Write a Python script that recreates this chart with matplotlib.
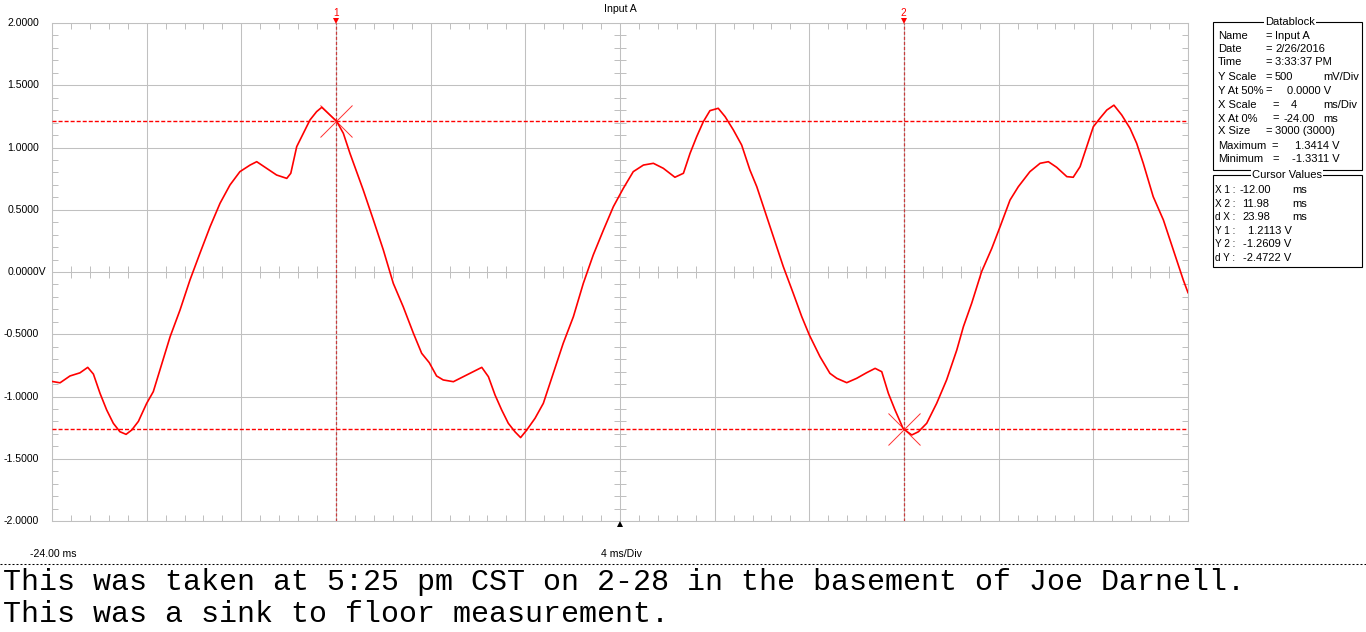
import matplotlib
matplotlib.use("Agg")
import matplotlib.pyplot as plt
from matplotlib.lines import Line2D
from matplotlib.patches import Rectangle
import numpy as np

plt.rcParams['lines.scale_dashes'] = False

# ---------------- data ----------------
time_ms = [-23.97, -23.66, -23.24, -22.82, -22.49, -22.25, -21.97, -21.69, -21.41, -21.13,
           -20.87, -20.63, -20.35, -20.00, -19.72, -19.44, -19.01, -18.59, -18.17, -17.75,
           -17.32, -16.90, -16.48, -16.06, -15.63, -15.35, -14.93, -14.51, -14.08, -13.91,
           -13.66, -13.38, -13.10, -12.82, -12.60, -12.33, -11.97, -11.69, -11.41, -11.13,
           -10.85, -10.42, -10.00, -9.58, -9.16, -8.73, -8.38, -8.06,
           -7.75, -7.47, -7.04, -6.62, -6.20, -5.84, -5.56, -5.28, -5.00, -4.72,
           -4.44, -4.20, -3.94, -3.59, -3.24, -2.82, -2.40, -1.97, -1.55, -1.13,
           -0.70, -0.28, 0.14, 0.56, 0.99, 1.41, 1.83, 2.32, 2.68, 2.96,
           3.24, 3.52, 3.80, 4.15, 4.44, 4.79, 5.14, 5.49, 5.78, 6.06,
           6.48, 6.90, 7.32, 7.68, 8.00,
           8.45, 8.87, 9.16, 9.58, 10.00, 10.42, 10.78, 11.06, 11.34, 11.62,
           11.97, 12.33, 12.61, 12.96, 13.38, 13.80, 14.23, 14.51, 14.86, 15.28,
           15.71, 16.06, 16.48, 16.83, 17.32, 17.75, 18.10, 18.45, 18.88, 19.15,
           19.44, 19.72, 20.00, 20.28, 20.57, 20.87, 21.20, 21.55, 21.83, 22.11,
           22.53, 22.96, 23.24, 23.52, 23.80, 24.00]

volts = [-0.88, -0.89, -0.835, -0.81, -0.766, -0.82, -0.975, -1.108, -1.215, -1.283,
         -1.304, -1.269, -1.20, -1.055, -0.961, -0.787, -0.52, -0.305, -0.064, 0.15,
         0.364, 0.552, 0.699, 0.806, 0.859, 0.886, 0.833, 0.779, 0.752, 0.793,
         1.007, 1.114, 1.221, 1.288, 1.323, 1.275, 1.21, 1.114, 0.953, 0.806,
         0.659, 0.418, 0.177, -0.091, -0.279, -0.492, -0.653, -0.728,
         -0.835, -0.867, -0.881, -0.841, -0.801, -0.766, -0.841, -0.988, -1.108, -1.215,
         -1.283, -1.33, -1.269, -1.175, -1.055, -0.814, -0.573, -0.359, -0.091, 0.137,
         0.337, 0.525, 0.672, 0.806, 0.859, 0.873, 0.833, 0.761, 0.793, 0.953,
         1.087, 1.207, 1.296, 1.315, 1.248, 1.141, 1.02, 0.819, 0.685, 0.525,
         0.284, 0.043, -0.171, -0.359, -0.506,
         -0.68, -0.814, -0.854, -0.889, -0.854, -0.809, -0.774, -0.801, -0.975, -1.108,
         -1.26, -1.309, -1.283, -1.215, -1.055, -0.867, -0.627, -0.439, -0.251, 0.003,
         0.19, 0.364, 0.578, 0.685, 0.806, 0.873, 0.886, 0.841, 0.766, 0.761,
         0.846, 1.007, 1.167, 1.235, 1.301, 1.34, 1.261, 1.154, 1.034, 0.873,
         0.605, 0.418, 0.257, 0.096, -0.064, -0.166]

ytick_values = [2.0, 1.5, 1.0, 0.5, 0.0, -0.5, -1.0, -1.5, -2.0]
ytick_labels = ["2.0000", "1.5000", "1.0000", "0.5000", "0.0000V",
                "-0.5000", "-1.0000", "-1.5000", "-2.0000"]

cursor_x = [-12.00, 11.98]
cursor_y = [1.2113, -1.2609]
cursor_names = ["1", "2"]

title_text = "Input A"
x_start_label = "-24.00 ms"
x_scale_label = "4 ms/Div"

db_labels = ["Name", "Date", "Time", "Y Scale", "Y At 50%", "X Scale",
             "X At 0%", "X Size", "Maximum", "Minimum"]
db_values = ["Input A", "2/26/2016", "3:33:37 PM", "500", "0.0000 V", "4",
             "-24.00", "3000 (3000)", "1.3414 V", "-1.3311 V"]
db_units = ["", "", "", "mV/Div", "", "ms/Div", "ms", "", "", ""]

cv_labels = ["X 1 :", "X 2 :", "d X :", "Y 1 :", "Y 2 :", "d Y :"]
cv_values = ["-12.00", "11.98", "23.98", "1.2113 V", "-1.2609 V", "-2.4722 V"]
cv_units = ["ms", "ms", "ms", "", "", ""]

note_lines = ["This was taken at 5:25 pm CST on 2-28 in the basement of Joe Darnell.",
              "This was a sink to floor measurement."]

# ---------------- layout ----------------
W, H = 1366, 632
fig = plt.figure(figsize=(W / 100, H / 100), dpi=100)
fig.patch.set_facecolor("white")


def fx(px):
    return px / W


def fy(py):
    return 1 - py / H


GRID = "#c0c0c0"
RED = "#ff0000"
SANS = ["Liberation Sans", "DejaVu Sans"]

ax = fig.add_axes([fx(52), fy(521), 1136 / W, 498 / H])
ax.set_xlim(-24, 24)
ax.set_ylim(-2, 2)
ax.set_xticks(np.arange(-24, 24.01, 4))
ax.set_yticks(ytick_values)
ax.set_xticks(np.arange(-24, 24.01, 0.8), minor=True)
ax.set_yticks(np.arange(-2, 2.001, 0.1), minor=True)
ax.grid(True, which="major", color=GRID, lw=0.75)
ax.tick_params(which="major", length=0, labelbottom=False, labelleft=False)
ax.tick_params(which="minor", direction="in", length=4.3, width=0.72, color=GRID,
               top=True, right=True, bottom=True, left=True)
for sp in ax.spines.values():
    sp.set_color(GRID)
    sp.set_linewidth(0.75)
ax.set_axisbelow(True)

# centre cross minor ticks
minor_x = np.arange(-24, 24.01, 0.8)
minor_y = np.arange(-2, 2.001, 0.1)
ax.plot(minor_x, np.zeros_like(minor_x), ls="none", marker="|", ms=8.6, mew=0.72,
        color=GRID, zorder=1)
ax.plot(np.zeros_like(minor_y), minor_y, ls="none", marker="_", ms=8.6, mew=0.72,
        color=GRID, zorder=1)

# y labels
for v, lab in zip(ytick_values, ytick_labels):
    off = -4.3 if lab.endswith("V") else -9.4
    ax.annotate(lab, xy=(0, v), xycoords=("axes fraction", "data"),
                xytext=(off, 0), textcoords="offset points",
                ha="right", va="center", fontsize=7.6, family=SANS, color="black")

# cursors
for cx, name in zip(cursor_x, cursor_names):
    ax.axvline(cx, color="#c83c3c", lw=0.9, dashes=(2.2, 1.45), zorder=3)
    ax.plot([cx], [2.0 + 0.018], marker="v", ms=4.5, color=RED, clip_on=False,
            zorder=6, mew=0)
    ax.annotate(name, xy=(cx, 2.0), xytext=(0, 3.8), textcoords="offset points",
                ha="center", va="bottom", fontsize=7.2, family=SANS, color=RED,
                annotation_clip=False)
for cy in cursor_y:
    ax.axhline(cy, color=RED, lw=1.0, dashes=(2.9, 1.45), zorder=3)
ax.plot(cursor_x, cursor_y, ls="none", marker="x", ms=23, mew=0.7, color="#ff3030",
        zorder=4)

# trace
ax.plot(time_ms, volts, color=RED, lw=1.2, zorder=5)

# origin marker at bottom
ax.plot([0], [-2.0 - 0.022], marker="^", ms=4.2, color="black", clip_on=False,
        zorder=6, mew=0)

# texts around axes
fig.text(fx(620), fy(9), title_text, ha="center", va="center", fontsize=7.6,
         family=SANS)
fig.text(fx(30), fy(554), x_start_label, ha="left", va="center", fontsize=7.6,
         family=SANS)
fig.text(fx(621), fy(554), x_scale_label, ha="center", va="center", fontsize=7.6,
         family=SANS)

fig.add_artist(Line2D([0, 1], [fy(564), fy(564)], transform=fig.transFigure,
                      color="black", lw=0.75, dashes=(1.44, 1.44)))

for i, line in enumerate(note_lines):
    fig.text(fx(3), fy(590 + 32.5 * i), line, ha="left", va="baseline",
             fontsize=21.6, family=["Liberation Mono", "DejaVu Sans Mono"],
             color="black")

# Datablock panel
PFS = 8.0
fig.add_artist(Rectangle((fx(1213), fy(170)), (1362 - 1213) / W, (170 - 22) / H,
                         transform=fig.transFigure, fill=False, ec="black", lw=0.8))
fig.text(fx(1290), fy(22), "Datablock", ha="center", va="center", fontsize=PFS,
         family=SANS, bbox=dict(fc="white", ec="none", pad=1.0))
db_rows_y = [36, 49, 62, 77, 90.5, 105, 118.5, 131.5, 146, 159]
db_eq_x = [1265, 1265, 1265, 1265, 1265, 1272, 1272, 1265, 1271, 1272]
db_val_x = [1275, 1275, 1275, 1275, 1287, 1291, 1284, 1275, 1295, 1292]
for lab, val, unit, yy, ex, vx in zip(db_labels, db_values, db_units, db_rows_y,
                                      db_eq_x, db_val_x):
    fig.text(fx(1218), fy(yy), lab, ha="left", va="center", fontsize=PFS, family=SANS)
    fig.text(fx(ex), fy(yy), "=", ha="left", va="center", fontsize=PFS, family=SANS)
    fig.text(fx(vx), fy(yy), val, ha="left", va="center", fontsize=PFS, family=SANS)
    if unit:
        fig.text(fx(1323), fy(yy), unit, ha="left", va="center", fontsize=PFS,
                 family=SANS)

# Cursor values panel
fig.add_artist(Rectangle((fx(1213), fy(267)), (1362 - 1213) / W, (267 - 175) / H,
                         transform=fig.transFigure, fill=False, ec="black", lw=0.8))
fig.text(fx(1287), fy(175), "Cursor Values", ha="center", va="center", fontsize=PFS,
         family=SANS, bbox=dict(fc="white", ec="none", pad=1.0))
cv_rows_y = [190.5, 204, 217.5, 231, 244.5, 257.5]
cv_val_x = [1239, 1242, 1242, 1248, 1243, 1243]
for lab, val, unit, yy, vx in zip(cv_labels, cv_values, cv_units, cv_rows_y, cv_val_x):
    fig.text(fx(1215), fy(yy), lab, ha="left", va="center", fontsize=7.2, family=SANS)
    fig.text(fx(vx), fy(yy), val, ha="left", va="center", fontsize=PFS, family=SANS)
    if unit:
        fig.text(fx(1292), fy(yy), unit, ha="left", va="center", fontsize=PFS,
                 family=SANS)

fig.savefig("out.png", dpi=100, facecolor="white")
